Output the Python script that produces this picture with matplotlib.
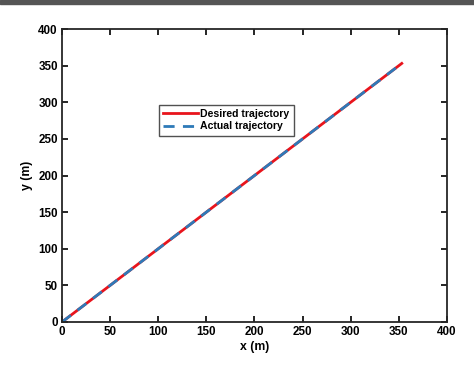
import matplotlib
matplotlib.use("Agg")
import matplotlib.pyplot as plt
from matplotlib.patches import Rectangle

plt.rcParams['font.family'] = ['Liberation Sans', 'DejaVu Sans']
plt.rcParams['font.weight'] = 'bold'

desired_x = [0, 353]
desired_y = [0, 353]
actual_x = [0, 353]
actual_y = [0, 353]
x_ticks = [0, 50, 100, 150, 200, 250, 300, 350, 400]
y_ticks = [0, 50, 100, 150, 200, 250, 300, 350, 400]

fig = plt.figure(figsize=(4.74, 3.81), dpi=100)
fig.patches.append(Rectangle((0, 0.99), 1, 0.01, transform=fig.transFigure,
                             color='#555555', zorder=10))
ax = fig.add_axes([62/474, 1-322/381, (447-62)/474, (322-29)/381])

ax.plot(desired_x, desired_y, color='#e8141c', lw=2.0, label='Desired trajectory')
ax.plot(actual_x, actual_y, color='#2e7ab8', lw=2.0, ls=(0, (4, 3)), label='Actual trajectory')

ax.set_xlim(0, 400)
ax.set_ylim(0, 400)
ax.set_xticks(x_ticks)
ax.set_yticks(y_ticks)
ax.tick_params(direction='in', length=4, width=1.2, labelsize=8.4, top=True, right=True,
               pad=3)
for lab in ax.get_xticklabels() + ax.get_yticklabels():
    lab.set_fontweight('bold')
for s in ax.spines.values():
    s.set_linewidth(1.3)
    s.set_color('#262626')
ax.set_xlabel('x (m)', fontsize=8.8, fontweight='bold', labelpad=2)
ax.set_ylabel('y (m)', fontsize=8.8, fontweight='bold', labelpad=4)

leg = ax.legend(loc='upper left', bbox_to_anchor=(0.252, 0.742), fontsize=7.6,
                frameon=True, fancybox=False, edgecolor='#262626', handlelength=3.3,
                handletextpad=0.2, borderpad=0.4, labelspacing=0.25, borderaxespad=0)
leg.get_frame().set_linewidth(1.0)
for t in leg.get_texts():
    t.set_fontweight('bold')

fig.savefig('out.png', dpi=100)
